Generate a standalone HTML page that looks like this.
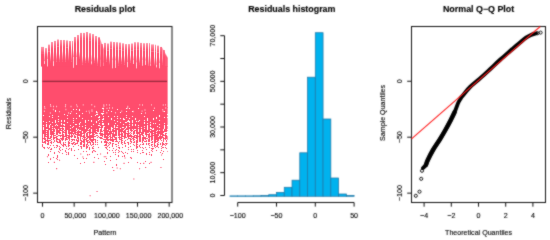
<!DOCTYPE html><html><head><meta charset="utf-8"><style>html,body{margin:0;padding:0;background:#fff;width:550px;height:240px;overflow:hidden}svg{display:block}text{font-family:"Liberation Sans",Arial,sans-serif;fill:#000;stroke:#000;stroke-width:0.12px}</style></head><body>
<svg width="550" height="240" viewBox="0 0 550 240">
<defs><filter id="gb" x="0" y="0" width="550" height="240" filterUnits="userSpaceOnUse" color-interpolation-filters="sRGB"><feConvolveMatrix order="3" kernelMatrix="1 2 1 2 12 2 1 2 1" edgeMode="duplicate"/></filter></defs>
<defs><filter id="gb2" x="0" y="0" width="550" height="240" filterUnits="userSpaceOnUse" color-interpolation-filters="sRGB"><feConvolveMatrix order="3" kernelMatrix="0 1 0 1 12 1 0 1 0" edgeMode="duplicate"/></filter></defs>
<rect width="550" height="240" fill="#fff"/>
<defs><linearGradient id="gg" x1="0" y1="0" x2="0" y2="1"><stop offset="0" stop-color="#ff4d6d" stop-opacity="0"/><stop offset="1" stop-color="#ff4d6d" stop-opacity="1"/></linearGradient><linearGradient id="sg" x1="0" y1="0" x2="0" y2="1"><stop offset="0" stop-color="#ff4d6d" stop-opacity="0.6"/><stop offset="1" stop-color="#ff4d6d" stop-opacity="1"/></linearGradient></defs>
<g filter="url(#gb2)">
<g fill="#ff4d6d">
<rect x="42.0" y="66" width="125.6" height="38.0"/>
</g>
<rect x="44.00" y="51.32" width="1.00" height="12.79" fill="url(#gg)"/>
<rect x="44.00" y="64.06" width="1.00" height="2.49" fill="#ff4d6d"/>
<rect x="41.00" y="46.90" width="3.00" height="7" fill="url(#sg)"/>
<rect x="41.00" y="53.85" width="3.00" height="12.70" fill="#ff4d6d"/>
<rect x="47.00" y="51.81" width="1.00" height="10.07" fill="url(#gg)"/>
<rect x="47.00" y="61.83" width="1.00" height="4.72" fill="#ff4d6d"/>
<rect x="45.00" y="48.10" width="2.00" height="7" fill="url(#sg)"/>
<rect x="45.00" y="55.05" width="2.00" height="11.50" fill="#ff4d6d"/>
<rect x="50.00" y="52.26" width="1.00" height="9.86" fill="url(#gg)"/>
<rect x="50.00" y="62.07" width="1.00" height="4.48" fill="#ff4d6d"/>
<rect x="48.00" y="44.60" width="2.00" height="7" fill="url(#sg)"/>
<rect x="48.00" y="51.55" width="2.00" height="15.00" fill="#ff4d6d"/>
<rect x="53.00" y="51.11" width="1.00" height="13.14" fill="url(#gg)"/>
<rect x="53.00" y="64.21" width="1.00" height="2.34" fill="#ff4d6d"/>
<rect x="51.00" y="42.00" width="2.00" height="7" fill="url(#sg)"/>
<rect x="51.00" y="48.95" width="2.00" height="17.60" fill="#ff4d6d"/>
<rect x="56.00" y="51.93" width="1.00" height="9.65" fill="url(#gg)"/>
<rect x="56.00" y="61.53" width="1.00" height="5.02" fill="#ff4d6d"/>
<rect x="54.00" y="40.90" width="2.00" height="7" fill="url(#sg)"/>
<rect x="54.00" y="47.85" width="2.00" height="18.70" fill="#ff4d6d"/>
<rect x="59.00" y="53.66" width="1.00" height="7.57" fill="url(#gg)"/>
<rect x="59.00" y="61.18" width="1.00" height="5.37" fill="#ff4d6d"/>
<rect x="57.00" y="39.50" width="2.00" height="7" fill="url(#sg)"/>
<rect x="57.00" y="46.45" width="2.00" height="20.10" fill="#ff4d6d"/>
<rect x="62.00" y="50.79" width="1.00" height="10.47" fill="url(#gg)"/>
<rect x="62.00" y="61.20" width="1.00" height="5.35" fill="#ff4d6d"/>
<rect x="60.00" y="40.00" width="2.00" height="7" fill="url(#sg)"/>
<rect x="60.00" y="46.95" width="2.00" height="19.60" fill="#ff4d6d"/>
<rect x="65.00" y="52.70" width="1.00" height="9.08" fill="url(#gg)"/>
<rect x="65.00" y="61.73" width="1.00" height="4.82" fill="#ff4d6d"/>
<rect x="63.00" y="40.00" width="2.00" height="7" fill="url(#sg)"/>
<rect x="63.00" y="46.95" width="2.00" height="19.60" fill="#ff4d6d"/>
<rect x="68.00" y="48.23" width="1.00" height="12.83" fill="url(#gg)"/>
<rect x="68.00" y="61.01" width="1.00" height="5.54" fill="#ff4d6d"/>
<rect x="66.00" y="40.40" width="2.00" height="7" fill="url(#sg)"/>
<rect x="66.00" y="47.35" width="2.00" height="19.20" fill="#ff4d6d"/>
<rect x="71.00" y="48.31" width="1.00" height="13.39" fill="url(#gg)"/>
<rect x="71.00" y="61.65" width="1.00" height="4.90" fill="#ff4d6d"/>
<rect x="69.00" y="41.00" width="2.00" height="7" fill="url(#sg)"/>
<rect x="69.00" y="47.95" width="2.00" height="18.60" fill="#ff4d6d"/>
<rect x="73.00" y="50.21" width="1.00" height="9.79" fill="url(#gg)"/>
<rect x="73.00" y="59.95" width="1.00" height="6.60" fill="#ff4d6d"/>
<rect x="72.00" y="41.00" width="1.00" height="7" fill="url(#sg)"/>
<rect x="72.00" y="47.95" width="1.00" height="18.60" fill="#ff4d6d"/>
<rect x="76.00" y="50.94" width="1.00" height="9.09" fill="url(#gg)"/>
<rect x="76.00" y="59.98" width="1.00" height="6.57" fill="#ff4d6d"/>
<rect x="74.00" y="37.00" width="2.00" height="7" fill="url(#sg)"/>
<rect x="74.00" y="43.95" width="2.00" height="22.60" fill="#ff4d6d"/>
<rect x="79.00" y="51.48" width="1.00" height="7.40" fill="url(#gg)"/>
<rect x="79.00" y="58.83" width="1.00" height="7.72" fill="#ff4d6d"/>
<rect x="77.00" y="35.00" width="2.00" height="7" fill="url(#sg)"/>
<rect x="77.00" y="41.95" width="2.00" height="24.60" fill="#ff4d6d"/>
<rect x="82.00" y="55.76" width="1.00" height="8.84" fill="url(#gg)"/>
<rect x="82.00" y="64.55" width="1.00" height="2.00" fill="#ff4d6d"/>
<rect x="80.00" y="32.90" width="2.00" height="7" fill="url(#sg)"/>
<rect x="80.00" y="39.85" width="2.00" height="26.70" fill="#ff4d6d"/>
<rect x="85.00" y="56.72" width="1.00" height="5.60" fill="url(#gg)"/>
<rect x="85.00" y="62.27" width="1.00" height="4.28" fill="#ff4d6d"/>
<rect x="83.00" y="32.90" width="2.00" height="7" fill="url(#sg)"/>
<rect x="83.00" y="39.85" width="2.00" height="26.70" fill="#ff4d6d"/>
<rect x="88.00" y="56.08" width="1.00" height="6.77" fill="url(#gg)"/>
<rect x="88.00" y="62.80" width="1.00" height="3.75" fill="#ff4d6d"/>
<rect x="86.00" y="32.00" width="2.00" height="7" fill="url(#sg)"/>
<rect x="86.00" y="38.95" width="2.00" height="27.60" fill="#ff4d6d"/>
<rect x="91.00" y="54.38" width="1.00" height="10.01" fill="url(#gg)"/>
<rect x="91.00" y="64.33" width="1.00" height="2.22" fill="#ff4d6d"/>
<rect x="89.00" y="33.25" width="2.00" height="7" fill="url(#sg)"/>
<rect x="89.00" y="40.20" width="2.00" height="26.35" fill="#ff4d6d"/>
<rect x="94.00" y="56.41" width="1.00" height="5.85" fill="url(#gg)"/>
<rect x="94.00" y="62.20" width="1.00" height="4.35" fill="#ff4d6d"/>
<rect x="92.00" y="34.10" width="2.00" height="7" fill="url(#sg)"/>
<rect x="92.00" y="41.05" width="2.00" height="25.50" fill="#ff4d6d"/>
<rect x="97.00" y="56.96" width="1.00" height="8.25" fill="url(#gg)"/>
<rect x="97.00" y="65.16" width="1.00" height="1.39" fill="#ff4d6d"/>
<rect x="95.00" y="36.00" width="2.00" height="7" fill="url(#sg)"/>
<rect x="95.00" y="42.95" width="2.00" height="23.60" fill="#ff4d6d"/>
<rect x="100.00" y="53.69" width="1.00" height="8.89" fill="url(#gg)"/>
<rect x="100.00" y="62.53" width="1.00" height="4.02" fill="#ff4d6d"/>
<rect x="98.00" y="37.25" width="2.00" height="7" fill="url(#sg)"/>
<rect x="98.00" y="44.20" width="2.00" height="22.35" fill="#ff4d6d"/>
<rect x="103.00" y="53.46" width="1.00" height="12.02" fill="url(#gg)"/>
<rect x="103.00" y="65.43" width="1.00" height="1.12" fill="#ff4d6d"/>
<rect x="101.00" y="44.00" width="2.00" height="7" fill="url(#sg)"/>
<rect x="101.00" y="50.95" width="2.00" height="15.60" fill="#ff4d6d"/>
<rect x="106.00" y="54.86" width="1.00" height="6.68" fill="url(#gg)"/>
<rect x="106.00" y="61.49" width="1.00" height="5.06" fill="#ff4d6d"/>
<rect x="104.00" y="42.90" width="2.00" height="7" fill="url(#sg)"/>
<rect x="104.00" y="49.85" width="2.00" height="16.70" fill="#ff4d6d"/>
<rect x="109.00" y="54.44" width="1.00" height="10.55" fill="url(#gg)"/>
<rect x="109.00" y="64.94" width="1.00" height="1.61" fill="#ff4d6d"/>
<rect x="107.00" y="43.50" width="2.00" height="7" fill="url(#sg)"/>
<rect x="107.00" y="50.45" width="2.00" height="16.10" fill="#ff4d6d"/>
<rect x="112.00" y="56.12" width="1.00" height="7.03" fill="url(#gg)"/>
<rect x="112.00" y="63.10" width="1.00" height="3.45" fill="#ff4d6d"/>
<rect x="110.00" y="41.60" width="2.00" height="7" fill="url(#sg)"/>
<rect x="110.00" y="48.55" width="2.00" height="18.00" fill="#ff4d6d"/>
<rect x="115.00" y="55.27" width="1.00" height="8.07" fill="url(#gg)"/>
<rect x="115.00" y="63.29" width="1.00" height="3.26" fill="#ff4d6d"/>
<rect x="113.00" y="42.00" width="2.00" height="7" fill="url(#sg)"/>
<rect x="113.00" y="48.95" width="2.00" height="17.60" fill="#ff4d6d"/>
<rect x="118.00" y="55.76" width="1.00" height="9.51" fill="url(#gg)"/>
<rect x="118.00" y="65.22" width="1.00" height="1.33" fill="#ff4d6d"/>
<rect x="116.00" y="42.25" width="2.00" height="7" fill="url(#sg)"/>
<rect x="116.00" y="49.20" width="2.00" height="17.35" fill="#ff4d6d"/>
<rect x="121.00" y="55.98" width="1.00" height="7.26" fill="url(#gg)"/>
<rect x="121.00" y="63.20" width="1.00" height="3.35" fill="#ff4d6d"/>
<rect x="119.00" y="42.60" width="2.00" height="7" fill="url(#sg)"/>
<rect x="119.00" y="49.55" width="2.00" height="17.00" fill="#ff4d6d"/>
<rect x="124.00" y="55.55" width="1.00" height="9.07" fill="url(#gg)"/>
<rect x="124.00" y="64.57" width="1.00" height="1.98" fill="#ff4d6d"/>
<rect x="122.00" y="43.30" width="2.00" height="7" fill="url(#sg)"/>
<rect x="122.00" y="50.25" width="2.00" height="16.30" fill="#ff4d6d"/>
<rect x="127.00" y="53.18" width="1.00" height="11.90" fill="url(#gg)"/>
<rect x="127.00" y="65.03" width="1.00" height="1.52" fill="#ff4d6d"/>
<rect x="125.00" y="44.10" width="2.00" height="7" fill="url(#sg)"/>
<rect x="125.00" y="51.05" width="2.00" height="15.50" fill="#ff4d6d"/>
<rect x="130.00" y="54.91" width="1.00" height="7.89" fill="url(#gg)"/>
<rect x="130.00" y="62.75" width="1.00" height="3.80" fill="#ff4d6d"/>
<rect x="128.00" y="44.10" width="2.00" height="7" fill="url(#sg)"/>
<rect x="128.00" y="51.05" width="2.00" height="15.50" fill="#ff4d6d"/>
<rect x="133.00" y="55.26" width="1.00" height="7.88" fill="url(#gg)"/>
<rect x="133.00" y="63.09" width="1.00" height="3.46" fill="#ff4d6d"/>
<rect x="131.00" y="43.50" width="2.00" height="7" fill="url(#sg)"/>
<rect x="131.00" y="50.45" width="2.00" height="16.10" fill="#ff4d6d"/>
<rect x="136.00" y="54.77" width="1.00" height="10.62" fill="url(#gg)"/>
<rect x="136.00" y="65.34" width="1.00" height="1.21" fill="#ff4d6d"/>
<rect x="134.00" y="42.25" width="2.00" height="7" fill="url(#sg)"/>
<rect x="134.00" y="49.20" width="2.00" height="17.35" fill="#ff4d6d"/>
<rect x="139.00" y="56.20" width="1.00" height="7.98" fill="url(#gg)"/>
<rect x="139.00" y="64.13" width="1.00" height="2.42" fill="#ff4d6d"/>
<rect x="137.00" y="42.25" width="2.00" height="7" fill="url(#sg)"/>
<rect x="137.00" y="49.20" width="2.00" height="17.35" fill="#ff4d6d"/>
<rect x="142.00" y="55.78" width="1.00" height="7.00" fill="url(#gg)"/>
<rect x="142.00" y="62.73" width="1.00" height="3.82" fill="#ff4d6d"/>
<rect x="140.00" y="42.90" width="2.00" height="7" fill="url(#sg)"/>
<rect x="140.00" y="49.85" width="2.00" height="16.70" fill="#ff4d6d"/>
<rect x="145.00" y="56.15" width="1.00" height="7.43" fill="url(#gg)"/>
<rect x="145.00" y="63.52" width="1.00" height="3.03" fill="#ff4d6d"/>
<rect x="143.00" y="43.25" width="2.00" height="7" fill="url(#sg)"/>
<rect x="143.00" y="50.20" width="2.00" height="16.35" fill="#ff4d6d"/>
<rect x="148.00" y="55.46" width="1.00" height="12.41" fill="url(#gg)"/>
<rect x="148.00" y="67.82" width="1.00" height="-1.27" fill="#ff4d6d"/>
<rect x="146.00" y="43.10" width="2.00" height="7" fill="url(#sg)"/>
<rect x="146.00" y="50.05" width="2.00" height="16.50" fill="#ff4d6d"/>
<rect x="150.00" y="55.87" width="1.00" height="11.56" fill="url(#gg)"/>
<rect x="150.00" y="67.38" width="1.00" height="-0.83" fill="#ff4d6d"/>
<rect x="149.00" y="43.10" width="1.00" height="7" fill="url(#sg)"/>
<rect x="149.00" y="50.05" width="1.00" height="16.50" fill="#ff4d6d"/>
<rect x="154.00" y="56.46" width="1.00" height="9.62" fill="url(#gg)"/>
<rect x="154.00" y="66.02" width="1.00" height="0.53" fill="#ff4d6d"/>
<rect x="151.00" y="44.40" width="3.00" height="7" fill="url(#sg)"/>
<rect x="151.00" y="51.35" width="3.00" height="15.20" fill="#ff4d6d"/>
<rect x="156.00" y="57.56" width="1.00" height="10.25" fill="url(#gg)"/>
<rect x="156.00" y="67.76" width="1.00" height="-1.21" fill="#ff4d6d"/>
<rect x="155.00" y="44.75" width="1.00" height="7" fill="url(#sg)"/>
<rect x="155.00" y="51.70" width="1.00" height="14.85" fill="#ff4d6d"/>
<rect x="159.00" y="57.07" width="1.00" height="8.79" fill="url(#gg)"/>
<rect x="159.00" y="65.81" width="1.00" height="0.74" fill="#ff4d6d"/>
<rect x="157.00" y="45.60" width="2.00" height="7" fill="url(#sg)"/>
<rect x="157.00" y="52.55" width="2.00" height="14.00" fill="#ff4d6d"/>
<rect x="162.00" y="58.07" width="1.00" height="6.67" fill="url(#gg)"/>
<rect x="162.00" y="64.69" width="1.00" height="1.86" fill="#ff4d6d"/>
<rect x="160.00" y="46.90" width="2.00" height="7" fill="url(#sg)"/>
<rect x="160.00" y="53.85" width="2.00" height="12.70" fill="#ff4d6d"/>
<rect x="163.00" y="50.00" width="2.00" height="7" fill="url(#sg)"/>
<rect x="163.00" y="56.95" width="2.00" height="9.60" fill="#ff4d6d"/>
<rect x="42.00" y="58" width="-1.00" height="8.5" fill="#ff4d6d"/>
<rect x="44.10" y="61.11" width="0.8" height="2.85" fill="#fff" fill-opacity="0.85"/>
<rect x="47.10" y="58.88" width="0.8" height="7.57" fill="#fff" fill-opacity="0.85"/>
<rect x="53.10" y="61.26" width="0.8" height="4.85" fill="#fff" fill-opacity="0.85"/>
<rect x="73.10" y="57.00" width="0.8" height="10.83" fill="#fff" fill-opacity="0.85"/>
<rect x="76.10" y="57.03" width="0.8" height="8.03" fill="#fff" fill-opacity="0.85"/>
<rect x="91.10" y="61.38" width="0.8" height="2.43" fill="#fff" fill-opacity="0.85"/>
<rect x="100.10" y="59.58" width="0.8" height="6.78" fill="#fff" fill-opacity="0.85"/>
<rect x="103.10" y="62.48" width="0.8" height="3.51" fill="#fff" fill-opacity="0.85"/>
<rect x="112.10" y="60.15" width="0.8" height="8.20" fill="#fff" fill-opacity="0.85"/>
<rect x="115.10" y="60.34" width="0.8" height="7.60" fill="#fff" fill-opacity="0.85"/>
<rect x="127.10" y="62.08" width="0.8" height="5.18" fill="#fff" fill-opacity="0.85"/>
<rect x="133.10" y="60.14" width="0.8" height="3.85" fill="#fff" fill-opacity="0.85"/>
<rect x="136.10" y="62.39" width="0.8" height="6.00" fill="#fff" fill-opacity="0.85"/>
<rect x="142.10" y="59.78" width="0.8" height="5.99" fill="#fff" fill-opacity="0.85"/>
<rect x="145.10" y="60.57" width="0.8" height="4.50" fill="#fff" fill-opacity="0.85"/>
<rect x="150.10" y="64.43" width="0.8" height="1.16" fill="#fff" fill-opacity="0.85"/>
<rect x="156.10" y="64.81" width="0.8" height="2.63" fill="#fff" fill-opacity="0.85"/>
<rect x="159.10" y="62.86" width="0.8" height="5.46" fill="#fff" fill-opacity="0.85"/>
<path fill="#ff4d6d" fill-opacity="0.6" d="M98.2,37.8 L99.6,37.6 L104.6,51 L104.6,66.5 L98.2,66.5 Z"/>
<path fill="#ff4d6d" fill-opacity="0.55" d="M160.4,47.2 L161.8,47 L167.6,57 L167.6,66.5 L160.4,66.5 Z"/>
<path fill="#ff4d6d" fill-opacity="0.85" d="M165,54 L167.6,58 L167.6,66.5 L165,66.5 Z"/>
<rect x="42.0" y="103.9" width="125.6" height="4" fill="#ff4d6d"/>
<path fill="#ff4d6d" d="M42,107h60v1h-60zM103,107h64.6v1h-64.6zM42,108h60v1h-60zM104,108h22v1h-22zM127,108h2v1h-2zM130,108h8v1h-8zM139,108h28.6v1h-28.6zM42,109h31v1h-31zM74,109h2v1h-2zM77,109h2v1h-2zM80,109h37v1h-37zM118,109h49.6v1h-49.6zM42,110h13v1h-13zM56,110h23v1h-23zM80,110h28v1h-28zM109,110h44v1h-44zM154,110h13.6v1h-13.6zM42,111h13v1h-13zM56,111h40v1h-40zM97,111h6v1h-6zM104,111h7v1h-7zM112,111h14v1h-14zM127,111h5v1h-5zM133,111h31v1h-31zM165,111h2.6v1h-2.6zM42,112h54v1h-54zM97,112h23v1h-23zM121,112h46.6v1h-46.6zM42,113h28v1h-28zM71,113h5v1h-5zM77,113h5v1h-5zM83,113h18v1h-18zM104,113h37v1h-37zM142,113h25.6v1h-25.6zM42,114h22v1h-22zM65,114h31v1h-31zM98,114h4v1h-4zM103,114h64v1h-64zM42,115h1v1h-1zM44,115h8v1h-8zM53,115h14v1h-14zM68,115h11v1h-11zM80,115h15v1h-15zM96,115h30v1h-30zM127,115h32v1h-32zM160,115h7.6v1h-7.6zM42,116h7v1h-7zM50,116h8v1h-8zM59,116h20v1h-20zM80,116h11v1h-11zM92,116h7v1h-7zM100,116h3v1h-3zM104,116h4v1h-4zM109,116h5v1h-5zM115,116h2v1h-2zM118,116h14v1h-14zM133,116h11v1h-11zM145,116h14v1h-14zM160,116h7.6v1h-7.6zM42,117h10v1h-10zM53,117h45v1h-45zM100,117h26v1h-26zM127,117h29v1h-29zM157,117h7v1h-7zM165,117h2v1h-2zM42,118h25v1h-25zM68,118h5v1h-5zM74,118h2v1h-2zM77,118h5v1h-5zM83,118h20v1h-20zM104,118h7v1h-7zM112,118h5v1h-5zM118,118h2v1h-2zM121,118h2v1h-2zM124,118h5v1h-5zM130,118h5v1h-5zM136,118h11v1h-11zM148,118h5v1h-5zM154,118h2v1h-2zM157,118h10.6v1h-10.6zM42,119h16v1h-16zM59,119h40v1h-40zM100,119h2v1h-2zM104,119h7v1h-7zM112,119h11v1h-11zM125,119h10v1h-10zM136,119h11v1h-11zM148,119h5v1h-5zM154,119h13.6v1h-13.6zM42,120h13v1h-13zM56,120h5v1h-5zM62,120h2v1h-2zM65,120h8v1h-8zM74,120h11v1h-11zM86,120h2v1h-2zM89,120h2v1h-2zM92,120h6v1h-6zM99,120h15v1h-15zM115,120h13v1h-13zM129,120h3v1h-3zM133,120h6v1h-6zM140,120h4v1h-4zM145,120h2v1h-2zM148,120h11v1h-11zM160,120h7.6v1h-7.6zM42,121h1v1h-1zM44,121h5v1h-5zM50,121h5v1h-5zM56,121h2v1h-2zM59,121h2v1h-2zM62,121h2v1h-2zM65,121h20v1h-20zM86,121h5v1h-5zM92,121h4v1h-4zM97,121h5v1h-5zM103,121h14v1h-14zM118,121h9v1h-9zM130,121h2v1h-2zM133,121h3v1h-3zM137,121h1v1h-1zM139,121h28.6v1h-28.6zM42,122h4v1h-4zM47,122h5v1h-5zM53,122h2v1h-2zM56,122h11v1h-11zM68,122h5v1h-5zM74,122h6v1h-6zM81,122h4v1h-4zM86,122h10v1h-10zM97,122h23v1h-23zM121,122h4v1h-4zM127,122h2v1h-2zM130,122h2v1h-2zM133,122h11v1h-11zM145,122h5v1h-5zM151,122h16.6v1h-16.6zM42,123h19v1h-19zM62,123h17v1h-17zM80,123h19v1h-19zM100,123h2v1h-2zM104,123h4v1h-4zM109,123h6v1h-6zM116,123h28v1h-28zM145,123h2v1h-2zM148,123h5v1h-5zM154,123h1v1h-1zM156,123h8v1h-8zM165,123h2.6v1h-2.6zM42,124h4v1h-4zM47,124h3v1h-3zM51,124h5v1h-5zM57,124h4v1h-4zM62,124h1v1h-1zM65,124h10v1h-10zM77,124h2v1h-2zM80,124h13v1h-13zM94,124h8v1h-8zM104,124h4v1h-4zM109,124h14v1h-14zM124,124h5v1h-5zM130,124h2v1h-2zM133,124h2v1h-2zM136,124h14v1h-14zM151,124h8v1h-8zM160,124h7.6v1h-7.6zM42,125h1v1h-1zM44,125h2v1h-2zM47,125h2v1h-2zM50,125h5v1h-5zM56,125h1v1h-1zM58,125h6v1h-6zM65,125h5v1h-5zM71,125h14v1h-14zM86,125h12v1h-12zM100,125h14v1h-14zM115,125h2v1h-2zM118,125h14v1h-14zM133,125h2v1h-2zM136,125h2v1h-2zM139,125h8v1h-8zM148,125h2v1h-2zM151,125h13v1h-13zM165,125h2v1h-2zM42,126h4v1h-4zM47,126h2v1h-2zM50,126h2v1h-2zM53,126h20v1h-20zM74,126h5v1h-5zM80,126h2v1h-2zM83,126h8v1h-8zM92,126h8v1h-8zM101,126h2v1h-2zM105,126h9v1h-9zM115,126h11v1h-11zM127,126h2v1h-2zM130,126h14v1h-14zM145,126h2v1h-2zM148,126h9v1h-9zM158,126h6v1h-6zM165,126h2.6v1h-2.6zM42,127h1v1h-1zM44,127h5v1h-5zM50,127h10v1h-10zM62,127h1v1h-1zM65,127h7v1h-7zM73,127h12v1h-12zM86,127h17v1h-17zM104,127h7v1h-7zM112,127h2v1h-2zM115,127h1v1h-1zM118,127h4v1h-4zM124,127h2v1h-2zM127,127h11v1h-11zM139,127h2v1h-2zM142,127h5v1h-5zM148,127h2v1h-2zM151,127h8v1h-8zM160,127h4v1h-4zM165,127h2.6v1h-2.6zM42,128h1v1h-1zM44,128h8v1h-8zM53,128h1v1h-1zM55,128h9v1h-9zM65,128h5v1h-5zM71,128h5v1h-5zM77,128h8v1h-8zM86,128h3v1h-3zM90,128h9v1h-9zM101,128h1v1h-1zM104,128h7v1h-7zM113,128h7v1h-7zM121,128h4v1h-4zM126,128h18v1h-18zM145,128h2v1h-2zM148,128h2v1h-2zM152,128h1v1h-1zM154,128h10v1h-10zM165,128h2.6v1h-2.6zM42,129h1v1h-1zM44,129h2v1h-2zM48,129h7v1h-7zM56,129h2v1h-2zM59,129h2v1h-2zM62,129h2v1h-2zM65,129h11v1h-11zM77,129h1v1h-1zM79,129h9v1h-9zM89,129h2v1h-2zM92,129h4v1h-4zM97,129h2v1h-2zM100,129h2v1h-2zM104,129h3v1h-3zM108,129h3v1h-3zM112,129h2v1h-2zM115,129h9v1h-9zM125,129h4v1h-4zM130,129h2v1h-2zM133,129h1v1h-1zM136,129h2v1h-2zM139,129h2v1h-2zM142,129h5v1h-5zM148,129h4v1h-4zM154,129h9v1h-9zM164,129h3v1h-3zM42,130h7v1h-7zM50,130h2v1h-2zM53,130h2v1h-2zM56,130h7v1h-7zM64,130h3v1h-3zM68,130h9v1h-9zM78,130h1v1h-1zM81,130h10v1h-10zM92,130h7v1h-7zM100,130h2v1h-2zM103,130h6v1h-6zM110,130h1v1h-1zM112,130h5v1h-5zM118,130h5v1h-5zM124,130h2v1h-2zM128,130h1v1h-1zM130,130h3v1h-3zM134,130h4v1h-4zM139,130h2v1h-2zM142,130h8v1h-8zM151,130h6v1h-6zM158,130h1v1h-1zM160,130h3v1h-3zM164,130h3.6v1h-3.6zM42,131h4v1h-4zM47,131h2v1h-2zM50,131h5v1h-5zM56,131h4v1h-4zM62,131h2v1h-2zM65,131h2v1h-2zM68,131h2v1h-2zM71,131h5v1h-5zM77,131h5v1h-5zM83,131h4v1h-4zM89,131h2v1h-2zM92,131h4v1h-4zM97,131h2v1h-2zM100,131h3v1h-3zM104,131h13v1h-13zM118,131h8v1h-8zM127,131h2v1h-2zM131,131h1v1h-1zM133,131h2v1h-2zM136,131h2v1h-2zM139,131h2v1h-2zM142,131h14v1h-14zM157,131h10v1h-10zM42,132h7v1h-7zM50,132h4v1h-4zM56,132h5v1h-5zM62,132h5v1h-5zM68,132h5v1h-5zM74,132h8v1h-8zM83,132h3v1h-3zM87,132h10v1h-10zM100,132h1v1h-1zM104,132h4v1h-4zM109,132h3v1h-3zM113,132h1v1h-1zM115,132h2v1h-2zM118,132h2v1h-2zM121,132h1v1h-1zM123,132h3v1h-3zM128,132h1v1h-1zM130,132h1v1h-1zM133,132h2v1h-2zM136,132h8v1h-8zM145,132h4v1h-4zM150,132h3v1h-3zM154,132h10v1h-10zM42,133h4v1h-4zM47,133h2v1h-2zM50,133h5v1h-5zM56,133h2v1h-2zM59,133h2v1h-2zM62,133h1v1h-1zM65,133h2v1h-2zM68,133h8v1h-8zM77,133h2v1h-2zM80,133h5v1h-5zM86,133h2v1h-2zM89,133h2v1h-2zM92,133h2v1h-2zM95,133h3v1h-3zM99,133h4v1h-4zM104,133h10v1h-10zM115,133h2v1h-2zM118,133h2v1h-2zM121,133h2v1h-2zM124,133h6v1h-6zM131,133h1v1h-1zM133,133h2v1h-2zM136,133h4v1h-4zM141,133h3v1h-3zM145,133h2v1h-2zM149,133h1v1h-1zM151,133h5v1h-5zM157,133h6v1h-6zM165,133h2v1h-2zM42,134h1v1h-1zM44,134h5v1h-5zM50,134h4v1h-4zM56,134h2v1h-2zM62,134h2v1h-2zM65,134h2v1h-2zM69,134h1v1h-1zM71,134h1v1h-1zM73,134h1v1h-1zM75,134h7v1h-7zM84,134h1v1h-1zM86,134h2v1h-2zM89,134h1v1h-1zM92,134h3v1h-3zM100,134h11v1h-11zM112,134h5v1h-5zM118,134h5v1h-5zM124,134h2v1h-2zM127,134h2v1h-2zM130,134h1v1h-1zM133,134h1v1h-1zM137,134h1v1h-1zM139,134h4v1h-4zM145,134h5v1h-5zM151,134h2v1h-2zM154,134h5v1h-5zM160,134h4v1h-4zM165,134h1v1h-1zM42,135h1v1h-1zM44,135h2v1h-2zM47,135h2v1h-2zM51,135h1v1h-1zM53,135h3v1h-3zM58,135h6v1h-6zM65,135h5v1h-5zM71,135h2v1h-2zM74,135h1v1h-1zM77,135h5v1h-5zM83,135h2v1h-2zM86,135h2v1h-2zM89,135h5v1h-5zM96,135h2v1h-2zM100,135h3v1h-3zM104,135h2v1h-2zM107,135h2v1h-2zM110,135h1v1h-1zM112,135h5v1h-5zM118,135h2v1h-2zM121,135h2v1h-2zM124,135h2v1h-2zM127,135h5v1h-5zM134,135h4v1h-4zM139,135h2v1h-2zM142,135h2v1h-2zM146,135h1v1h-1zM148,135h2v1h-2zM151,135h8v1h-8zM160,135h1v1h-1zM162,135h5v1h-5zM42,136h1v1h-1zM44,136h5v1h-5zM50,136h2v1h-2zM53,136h1v1h-1zM56,136h2v1h-2zM60,136h1v1h-1zM62,136h5v1h-5zM68,136h5v1h-5zM74,136h2v1h-2zM77,136h1v1h-1zM80,136h5v1h-5zM86,136h10v1h-10zM98,136h1v1h-1zM102,136h1v1h-1zM104,136h4v1h-4zM109,136h2v1h-2zM112,136h3v1h-3zM119,136h1v1h-1zM121,136h5v1h-5zM127,136h8v1h-8zM136,136h5v1h-5zM143,136h1v1h-1zM146,136h1v1h-1zM148,136h5v1h-5zM154,136h4v1h-4zM159,136h4v1h-4zM165,136h2.6v1h-2.6zM42,137h1v1h-1zM44,137h1v1h-1zM47,137h2v1h-2zM50,137h2v1h-2zM53,137h4v1h-4zM62,137h2v1h-2zM66,137h4v1h-4zM71,137h1v1h-1zM74,137h2v1h-2zM77,137h2v1h-2zM80,137h1v1h-1zM83,137h3v1h-3zM87,137h7v1h-7zM97,137h1v1h-1zM99,137h3v1h-3zM104,137h5v1h-5zM110,137h3v1h-3zM114,137h3v1h-3zM118,137h4v1h-4zM124,137h3v1h-3zM128,137h1v1h-1zM131,137h1v1h-1zM133,137h5v1h-5zM139,137h2v1h-2zM142,137h4v1h-4zM148,137h2v1h-2zM151,137h2v1h-2zM154,137h10v1h-10zM165,137h2.6v1h-2.6zM42,138h4v1h-4zM47,138h4v1h-4zM53,138h2v1h-2zM56,138h2v1h-2zM60,138h4v1h-4zM65,138h2v1h-2zM68,138h2v1h-2zM77,138h2v1h-2zM80,138h1v1h-1zM82,138h1v1h-1zM84,138h1v1h-1zM86,138h2v1h-2zM89,138h2v1h-2zM93,138h1v1h-1zM100,138h3v1h-3zM106,138h2v1h-2zM110,138h1v1h-1zM112,138h1v1h-1zM115,138h2v1h-2zM119,138h1v1h-1zM121,138h2v1h-2zM124,138h1v1h-1zM128,138h3v1h-3zM132,138h2v1h-2zM136,138h2v1h-2zM139,138h2v1h-2zM142,138h6v1h-6zM149,138h1v1h-1zM151,138h2v1h-2zM154,138h8v1h-8zM163,138h4.6v1h-4.6zM42,139h1v1h-1zM44,139h2v1h-2zM47,139h1v1h-1zM51,139h1v1h-1zM53,139h1v1h-1zM56,139h4v1h-4zM61,139h3v1h-3zM65,139h3v1h-3zM69,139h1v1h-1zM71,139h4v1h-4zM76,139h1v1h-1zM78,139h1v1h-1zM80,139h1v1h-1zM83,139h4v1h-4zM89,139h7v1h-7zM103,139h14v1h-14zM119,139h3v1h-3zM127,139h1v1h-1zM130,139h2v1h-2zM133,139h2v1h-2zM137,139h1v1h-1zM139,139h2v1h-2zM142,139h2v1h-2zM145,139h1v1h-1zM148,139h2v1h-2zM151,139h2v1h-2zM154,139h5v1h-5zM160,139h1v1h-1zM163,139h1v1h-1zM165,139h1v1h-1zM167,139h0.6v1h-0.6zM42,140h1v1h-1zM45,140h6v1h-6zM54,140h1v1h-1zM56,140h1v1h-1zM59,140h2v1h-2zM62,140h1v1h-1zM65,140h1v1h-1zM69,140h1v1h-1zM72,140h1v1h-1zM74,140h1v1h-1zM76,140h3v1h-3zM80,140h2v1h-2zM83,140h2v1h-2zM86,140h3v1h-3zM90,140h4v1h-4zM95,140h1v1h-1zM97,140h1v1h-1zM105,140h1v1h-1zM107,140h2v1h-2zM110,140h4v1h-4zM116,140h1v1h-1zM121,140h2v1h-2zM125,140h1v1h-1zM130,140h1v1h-1zM133,140h1v1h-1zM136,140h2v1h-2zM139,140h2v1h-2zM142,140h2v1h-2zM146,140h1v1h-1zM148,140h2v1h-2zM151,140h1v1h-1zM154,140h2v1h-2zM157,140h2v1h-2zM161,140h1v1h-1zM163,140h1v1h-1zM166,140h1v1h-1zM42,141h1v1h-1zM44,141h2v1h-2zM47,141h2v1h-2zM51,141h1v1h-1zM54,141h1v1h-1zM56,141h2v1h-2zM59,141h2v1h-2zM68,141h1v1h-1zM71,141h1v1h-1zM77,141h2v1h-2zM81,141h4v1h-4zM86,141h2v1h-2zM89,141h1v1h-1zM91,141h2v1h-2zM95,141h1v1h-1zM101,141h1v1h-1zM104,141h3v1h-3zM112,141h2v1h-2zM115,141h3v1h-3zM119,141h1v1h-1zM121,141h1v1h-1zM124,141h1v1h-1zM130,141h2v1h-2zM134,141h1v1h-1zM136,141h2v1h-2zM139,141h2v1h-2zM142,141h1v1h-1zM144,141h3v1h-3zM148,141h2v1h-2zM152,141h1v1h-1zM154,141h4v1h-4zM163,141h1v1h-1zM166,141h1v1h-1zM42,142h4v1h-4zM48,142h1v1h-1zM50,142h2v1h-2zM53,142h1v1h-1zM57,142h4v1h-4zM63,142h1v1h-1zM65,142h1v1h-1zM68,142h2v1h-2zM73,142h2v1h-2zM77,142h1v1h-1zM80,142h2v1h-2zM83,142h2v1h-2zM87,142h4v1h-4zM92,142h2v1h-2zM95,142h1v1h-1zM97,142h1v1h-1zM101,142h1v1h-1zM104,142h4v1h-4zM109,142h2v1h-2zM118,142h1v1h-1zM121,142h2v1h-2zM124,142h1v1h-1zM127,142h2v1h-2zM131,142h1v1h-1zM133,142h2v1h-2zM136,142h2v1h-2zM142,142h1v1h-1zM151,142h2v1h-2zM154,142h2v1h-2zM158,142h1v1h-1zM162,142h1v1h-1zM45,143h1v1h-1zM47,143h2v1h-2zM51,143h1v1h-1zM60,143h1v1h-1zM63,143h1v1h-1zM68,143h2v1h-2zM71,143h3v1h-3zM75,143h3v1h-3zM80,143h2v1h-2zM84,143h1v1h-1zM87,143h1v1h-1zM90,143h1v1h-1zM93,143h1v1h-1zM106,143h1v1h-1zM108,143h1v1h-1zM110,143h1v1h-1zM112,143h2v1h-2zM118,143h1v1h-1zM121,143h1v1h-1zM124,143h2v1h-2zM128,143h1v1h-1zM130,143h1v1h-1zM136,143h1v1h-1zM143,143h1v1h-1zM146,143h1v1h-1zM148,143h2v1h-2zM154,143h1v1h-1zM157,143h1v1h-1zM160,143h1v1h-1zM162,143h2v1h-2zM165,143h2.6v1h-2.6zM42,144h1v1h-1zM47,144h2v1h-2zM61,144h1v1h-1zM63,144h3v1h-3zM68,144h1v1h-1zM72,144h1v1h-1zM74,144h2v1h-2zM80,144h2v1h-2zM83,144h2v1h-2zM86,144h2v1h-2zM90,144h1v1h-1zM92,144h2v1h-2zM95,144h1v1h-1zM97,144h1v1h-1zM105,144h2v1h-2zM109,144h1v1h-1zM112,144h1v1h-1zM115,144h2v1h-2zM122,144h1v1h-1zM128,144h1v1h-1zM133,144h1v1h-1zM136,144h2v1h-2zM140,144h1v1h-1zM142,144h2v1h-2zM146,144h1v1h-1zM148,144h1v1h-1zM151,144h2v1h-2zM154,144h1v1h-1zM157,144h2v1h-2zM160,144h1v1h-1zM162,144h3v1h-3zM166,144h1v1h-1zM42,145h1v1h-1zM50,145h1v1h-1zM53,145h1v1h-1zM56,145h2v1h-2zM62,145h2v1h-2zM65,145h1v1h-1zM68,145h2v1h-2zM78,145h1v1h-1zM83,145h2v1h-2zM86,145h1v1h-1zM88,145h1v1h-1zM91,145h1v1h-1zM104,145h3v1h-3zM108,145h1v1h-1zM112,145h1v1h-1zM118,145h1v1h-1zM125,145h1v1h-1zM134,145h1v1h-1zM136,145h1v1h-1zM139,145h1v1h-1zM149,145h1v1h-1zM151,145h1v1h-1zM154,145h2v1h-2zM157,145h1v1h-1zM162,145h1v1h-1zM165,145h1v1h-1zM42,146h1v1h-1zM57,146h1v1h-1zM59,146h1v1h-1zM63,146h1v1h-1zM66,146h1v1h-1zM68,146h1v1h-1zM73,146h1v1h-1zM80,146h2v1h-2zM83,146h2v1h-2zM86,146h2v1h-2zM93,146h1v1h-1zM107,146h1v1h-1zM112,146h1v1h-1zM116,146h1v1h-1zM125,146h1v1h-1zM130,146h1v1h-1zM136,146h2v1h-2zM139,146h1v1h-1zM152,146h1v1h-1zM154,146h1v1h-1zM156,146h2v1h-2zM161,146h1v1h-1zM43,147h2v1h-2zM47,147h1v1h-1zM49,147h1v1h-1zM54,147h1v1h-1zM56,147h1v1h-1zM60,147h1v1h-1zM81,147h1v1h-1zM86,147h2v1h-2zM89,147h1v1h-1zM92,147h1v1h-1zM98,147h1v1h-1zM105,147h2v1h-2zM109,147h1v1h-1zM118,147h2v1h-2zM122,147h1v1h-1zM128,147h1v1h-1zM136,147h2v1h-2zM140,147h1v1h-1zM142,147h1v1h-1zM145,147h1v1h-1zM149,147h1v1h-1zM155,147h1v1h-1zM158,147h1v1h-1zM162,147h2v1h-2zM165,147h1v1h-1zM44,148h1v1h-1zM48,148h1v1h-1zM51,148h1v1h-1zM59,148h1v1h-1zM66,148h1v1h-1zM69,148h1v1h-1zM71,148h1v1h-1zM81,148h1v1h-1zM86,148h1v1h-1zM89,148h1v1h-1zM92,148h2v1h-2zM106,148h1v1h-1zM113,148h1v1h-1zM119,148h1v1h-1zM136,148h1v1h-1zM143,148h1v1h-1zM151,148h3v1h-3zM161,148h1v1h-1zM166,148h1v1h-1zM50,149h2v1h-2zM59,149h1v1h-1zM62,149h1v1h-1zM68,149h1v1h-1zM71,149h1v1h-1zM78,149h1v1h-1zM89,149h1v1h-1zM107,149h1v1h-1zM116,149h1v1h-1zM128,149h1v1h-1zM131,149h1v1h-1zM133,149h1v1h-1zM146,149h1v1h-1zM152,149h1v1h-1zM60,150h1v1h-1zM65,150h1v1h-1zM71,150h1v1h-1zM74,150h1v1h-1zM93,150h1v1h-1zM109,150h1v1h-1zM112,150h1v1h-1zM115,150h1v1h-1zM118,150h1v1h-1zM137,150h1v1h-1zM142,150h1v1h-1zM151,150h1v1h-1zM156,150h1v1h-1zM161,150h1v1h-1zM50,151h1v1h-1zM58,151h1v1h-1zM65,151h1v1h-1zM83,151h1v1h-1zM86,151h1v1h-1zM92,151h1v1h-1zM95,151h1v1h-1zM119,151h1v1h-1zM121,151h1v1h-1zM131,151h1v1h-1zM133,151h1v1h-1zM152,151h1v1h-1zM163,151h1v1h-1zM167,151h0.6v1h-0.6zM54,152h1v1h-1zM59,152h1v1h-1zM66,152h1v1h-1zM68,152h1v1h-1zM92,152h1v1h-1zM107,152h1v1h-1zM113,152h1v1h-1zM115,152h1v1h-1zM118,152h1v1h-1zM122,152h1v1h-1zM125,152h1v1h-1zM137,152h1v1h-1zM142,152h2v1h-2zM149,152h1v1h-1zM160,152h1v1h-1zM54,153h1v1h-1zM62,153h1v1h-1zM68,153h1v1h-1zM107,153h1v1h-1zM123,153h1v1h-1zM127,153h1v1h-1zM140,153h1v1h-1zM146,153h1v1h-1zM162,153h1v1h-1zM48,154h1v1h-1zM66,154h1v1h-1zM68,154h1v1h-1zM87,154h1v1h-1zM89,154h1v1h-1zM97,154h1v1h-1zM115,154h1v1h-1zM146,154h1v1h-1zM149,154h1v1h-1zM151,154h1v1h-1zM48,155h1v1h-1zM57,155h1v1h-1zM74,155h1v1h-1zM118,155h1v1h-1zM124,155h1v1h-1zM151,155h1v1h-1zM57,156h1v1h-1zM110,156h1v1h-1zM118,156h1v1h-1zM122,156h1v1h-1zM124,156h1v1h-1zM53,157h1v1h-1zM57,157h1v1h-1zM94,157h1v1h-1zM130,157h1v1h-1zM56,158h1v1h-1zM77,158h1v1h-1zM83,158h1v1h-1zM86,158h1v1h-1zM98,158h1v1h-1zM106,158h1v1h-1zM131,158h1v1h-1zM50,159h1v1h-1zM57,159h1v1h-1zM116,159h1v1h-1zM163,159h1v1h-1zM110,160h1v1h-1zM104,161h1v1h-1zM145,161h1v1h-1zM48,162h1v1h-1zM84,162h1v1h-1zM128,162h1v1h-1zM137,162h1v1h-1zM80,163h1v1h-1zM140,163h1v1h-1zM149,163h1v1h-1zM105,164h1v1h-1zM116,164h1v1h-1zM116,165h1v1h-1z"/>
<path fill="#fff" fill-opacity="0.7" d="M44.16,106.00h0.9v1.4h-0.9zM44.46,107.67h0.9v1.4h-0.9zM43.87,110.51h0.9v1.4h-0.9zM50.08,104.01h0.9v1.4h-0.9zM50.40,105.66h0.9v1.4h-0.9zM49.84,112.34h0.9v1.4h-0.9zM53.13,105.79h0.9v1.4h-0.9zM52.89,108.84h0.9v1.4h-0.9zM56.18,105.78h0.9v1.4h-0.9zM59.09,110.89h0.9v1.4h-0.9zM65.24,104.01h0.9v1.4h-0.9zM64.89,105.78h0.9v1.4h-0.9zM65.45,108.85h0.9v1.4h-0.9zM68.22,112.32h0.9v1.4h-0.9zM70.57,105.86h0.9v1.4h-0.9zM70.95,110.88h0.9v1.4h-0.9zM76.16,104.14h0.9v1.4h-0.9zM76.82,105.78h0.9v1.4h-0.9zM82.76,104.17h0.9v1.4h-0.9zM85.88,110.64h0.9v1.4h-0.9zM88.62,110.43h0.9v1.4h-0.9zM89.03,112.19h0.9v1.4h-0.9zM91.35,104.03h0.9v1.4h-0.9zM91.51,109.26h0.9v1.4h-0.9zM91.57,110.69h0.9v1.4h-0.9zM94.28,105.86h0.9v1.4h-0.9zM97.08,112.01h0.9v1.4h-0.9zM103.35,104.26h0.9v1.4h-0.9zM103.45,105.62h0.9v1.4h-0.9zM103.13,107.70h0.9v1.4h-0.9zM102.96,109.20h0.9v1.4h-0.9zM106.19,104.15h0.9v1.4h-0.9zM106.54,107.64h0.9v1.4h-0.9zM106.39,112.11h0.9v1.4h-0.9zM108.94,104.37h0.9v1.4h-0.9zM108.98,107.23h0.9v1.4h-0.9zM112.10,107.30h0.9v1.4h-0.9zM115.14,112.07h0.9v1.4h-0.9zM121.34,110.43h0.9v1.4h-0.9zM127.34,105.83h0.9v1.4h-0.9zM127.20,107.33h0.9v1.4h-0.9zM132.76,110.74h0.9v1.4h-0.9zM139.33,104.22h0.9v1.4h-0.9zM142.00,104.36h0.9v1.4h-0.9zM141.60,110.41h0.9v1.4h-0.9zM144.53,109.28h0.9v1.4h-0.9zM145.02,112.25h0.9v1.4h-0.9zM151.06,104.16h0.9v1.4h-0.9zM153.93,107.48h0.9v1.4h-0.9zM162.78,104.25h0.9v1.4h-0.9zM162.31,109.09h0.9v1.4h-0.9zM162.78,110.69h0.9v1.4h-0.9zM165.15,104.17h0.9v1.4h-0.9zM165.34,107.34h0.9v1.4h-0.9z"/>
<path fill="#ff4d6d" d="M46.9,156.2h1.1v1.1h-1.1zM50.0,158.2h1.1v1.1h-1.1zM53.8,161.8h1.1v1.1h-1.1zM59.0,159.7h1.1v1.1h-1.1zM56.1,168.1h1.1v1.1h-1.1zM80.2,153.5h1.1v1.1h-1.1zM82.3,156.5h1.1v1.1h-1.1zM87.1,154.5h1.1v1.1h-1.1zM93.3,161.8h1.1v1.1h-1.1zM93.8,150.3h1.1v1.1h-1.1zM100.0,153.5h1.1v1.1h-1.1zM105.2,156.2h1.1v1.1h-1.1zM89.6,195.2h1.1v1.1h-1.1zM96.5,191.0h1.1v1.1h-1.1zM103.7,156.2h1.1v1.1h-1.1zM112.0,167.0h1.1v1.1h-1.1zM113.2,169.9h1.1v1.1h-1.1zM116.6,167.5h1.1v1.1h-1.1zM119.8,168.2h1.1v1.1h-1.1zM123.5,162.8h1.1v1.1h-1.1zM124.5,157.5h1.1v1.1h-1.1zM130.8,157.5h1.1v1.1h-1.1zM133.3,178.5h1.1v1.1h-1.1zM139.0,168.2h1.1v1.1h-1.1zM143.2,162.8h1.1v1.1h-1.1zM145.1,167.0h1.1v1.1h-1.1zM150.5,161.8h1.1v1.1h-1.1zM160.4,167.0h1.1v1.1h-1.1zM161.0,154.5h1.1v1.1h-1.1z"/>
</g><g filter="url(#gb)">
<line x1="42.5" y1="81.3" x2="167" y2="81.3" stroke="#7a1f2e" stroke-width="1"/>
<rect x="37.5" y="26.5" width="134.5" height="176" fill="none" stroke="#111" stroke-width="1"/>
<line x1="33.2" y1="81.25" x2="37.5" y2="81.25" stroke="#111" stroke-width="1"/>
<text font-size="7.1" text-anchor="middle" transform="translate(27.8,81.25) rotate(-90)">0</text>
<line x1="33.2" y1="137.20" x2="37.5" y2="137.20" stroke="#111" stroke-width="1"/>
<text font-size="7.1" text-anchor="middle" transform="translate(27.8,137.20) rotate(-90)">−50</text>
<line x1="33.2" y1="193.15" x2="37.5" y2="193.15" stroke="#111" stroke-width="1"/>
<text font-size="7.1" text-anchor="middle" transform="translate(27.8,193.15) rotate(-90)">−100</text>
<line x1="42.50" y1="202.5" x2="42.50" y2="206.7" stroke="#111" stroke-width="1"/>
<text font-size="7.1" text-anchor="middle" x="42.50" y="217.8">0</text>
<line x1="74.17" y1="202.5" x2="74.17" y2="206.7" stroke="#111" stroke-width="1"/>
<text font-size="7.1" text-anchor="middle" x="75.27" y="217.8">50,000</text>
<line x1="105.84" y1="202.5" x2="105.84" y2="206.7" stroke="#111" stroke-width="1"/>
<text font-size="7.1" text-anchor="middle" x="106.94" y="217.8">100,000</text>
<line x1="137.51" y1="202.5" x2="137.51" y2="206.7" stroke="#111" stroke-width="1"/>
<text font-size="7.1" text-anchor="middle" x="138.61" y="217.8">150,000</text>
<line x1="169.18" y1="202.5" x2="169.18" y2="206.7" stroke="#111" stroke-width="1"/>
<text font-size="7.1" text-anchor="middle" x="170.28" y="217.8">200,000</text>
<text font-size="7.1" text-anchor="middle" x="105" y="234.6">Pattern</text>
<text font-size="7.1" text-anchor="middle" transform="translate(11.3,113.6) rotate(-90)">Residuals</text>
<text font-size="8.9" font-weight="bold" text-anchor="middle" x="105" y="11.9">Residuals plot</text>
<rect x="229.94" y="195.90" width="7.76" height="0.40" fill="#00b2ee" stroke="#1f78a8" stroke-width="0.75"/>
<rect x="237.70" y="195.90" width="7.76" height="0.40" fill="#00b2ee" stroke="#1f78a8" stroke-width="0.75"/>
<rect x="245.46" y="195.90" width="7.76" height="0.40" fill="#00b2ee" stroke="#1f78a8" stroke-width="0.75"/>
<rect x="253.22" y="195.80" width="7.76" height="0.50" fill="#00b2ee" stroke="#1f78a8" stroke-width="0.75"/>
<rect x="260.98" y="195.60" width="7.76" height="0.70" fill="#00b2ee" stroke="#1f78a8" stroke-width="0.75"/>
<rect x="268.74" y="194.70" width="7.76" height="1.60" fill="#00b2ee" stroke="#1f78a8" stroke-width="0.75"/>
<rect x="276.50" y="192.40" width="7.76" height="3.90" fill="#00b2ee" stroke="#1f78a8" stroke-width="0.75"/>
<rect x="284.26" y="187.30" width="7.76" height="9.00" fill="#00b2ee" stroke="#1f78a8" stroke-width="0.75"/>
<rect x="292.02" y="180.20" width="7.76" height="16.10" fill="#00b2ee" stroke="#1f78a8" stroke-width="0.75"/>
<rect x="299.78" y="152.80" width="7.76" height="43.50" fill="#00b2ee" stroke="#1f78a8" stroke-width="0.75"/>
<rect x="307.54" y="77.20" width="7.76" height="119.10" fill="#00b2ee" stroke="#1f78a8" stroke-width="0.75"/>
<rect x="315.30" y="32.70" width="7.76" height="163.60" fill="#00b2ee" stroke="#1f78a8" stroke-width="0.75"/>
<rect x="323.06" y="119.00" width="7.76" height="77.30" fill="#00b2ee" stroke="#1f78a8" stroke-width="0.75"/>
<rect x="330.82" y="178.00" width="7.76" height="18.30" fill="#00b2ee" stroke="#1f78a8" stroke-width="0.75"/>
<rect x="338.58" y="194.00" width="7.76" height="2.30" fill="#00b2ee" stroke="#1f78a8" stroke-width="0.75"/>
<rect x="346.34" y="195.60" width="7.76" height="0.70" fill="#00b2ee" stroke="#1f78a8" stroke-width="0.75"/>
<line x1="224.5" y1="35.7" x2="224.5" y2="195.5" stroke="#111" stroke-width="1"/>
<line x1="220.3" y1="195.50" x2="224.5" y2="195.50" stroke="#111" stroke-width="1"/>
<text font-size="7.1" text-anchor="middle" transform="translate(214.6,195.50) rotate(-90)">0</text>
<line x1="220.3" y1="172.67" x2="224.5" y2="172.67" stroke="#111" stroke-width="1"/>
<text font-size="7.1" text-anchor="middle" transform="translate(214.6,172.67) rotate(-90)">10,000</text>
<line x1="220.3" y1="149.84" x2="224.5" y2="149.84" stroke="#111" stroke-width="1"/>
<line x1="220.3" y1="127.01" x2="224.5" y2="127.01" stroke="#111" stroke-width="1"/>
<text font-size="7.1" text-anchor="middle" transform="translate(214.6,127.01) rotate(-90)">30,000</text>
<line x1="220.3" y1="104.18" x2="224.5" y2="104.18" stroke="#111" stroke-width="1"/>
<line x1="220.3" y1="81.35" x2="224.5" y2="81.35" stroke="#111" stroke-width="1"/>
<text font-size="7.1" text-anchor="middle" transform="translate(214.6,81.35) rotate(-90)">50,000</text>
<line x1="220.3" y1="58.52" x2="224.5" y2="58.52" stroke="#111" stroke-width="1"/>
<line x1="220.3" y1="35.69" x2="224.5" y2="35.69" stroke="#111" stroke-width="1"/>
<text font-size="7.1" text-anchor="middle" transform="translate(214.6,35.69) rotate(-90)">70,000</text>
<line x1="237.70" y1="202.5" x2="354.10" y2="202.5" stroke="#111" stroke-width="1"/>
<line x1="237.70" y1="202.5" x2="237.70" y2="206.6" stroke="#111" stroke-width="1"/>
<text font-size="7.1" text-anchor="middle" x="237.70" y="217.8">−100</text>
<line x1="276.50" y1="202.5" x2="276.50" y2="206.6" stroke="#111" stroke-width="1"/>
<text font-size="7.1" text-anchor="middle" x="276.50" y="217.8">−50</text>
<line x1="315.30" y1="202.5" x2="315.30" y2="206.6" stroke="#111" stroke-width="1"/>
<text font-size="7.1" text-anchor="middle" x="315.30" y="217.8">0</text>
<line x1="354.10" y1="202.5" x2="354.10" y2="206.6" stroke="#111" stroke-width="1"/>
<text font-size="7.1" text-anchor="middle" x="354.10" y="217.8">50</text>
<text font-size="8.9" font-weight="bold" text-anchor="middle" x="291.8" y="11.9">Residuals histogram</text>
<path d="M423.00,168.00 C423.48,167.50 425.10,166.33 425.90,165.00 C426.70,163.67 426.62,162.50 427.80,160.00 C428.98,157.50 431.05,153.33 433.00,150.00 C434.95,146.67 437.43,143.33 439.50,140.00 C441.57,136.67 443.52,133.33 445.40,130.00 C447.28,126.67 449.25,123.00 450.80,120.00 C452.35,117.00 453.40,115.00 454.70,112.00 C456.00,109.00 457.43,104.50 458.60,102.00 C459.77,99.50 460.65,98.50 461.70,97.00 C462.75,95.50 463.52,94.67 464.90,93.00 C466.28,91.33 467.48,89.43 470.00,87.00 C472.52,84.57 476.67,81.37 480.00,78.40 C483.33,75.43 486.67,72.30 490.00,69.20 C493.33,66.10 496.67,62.83 500.00,59.80 C503.33,56.77 506.67,53.90 510.00,51.00 C513.33,48.10 517.33,44.63 520.00,42.40 C522.67,40.17 524.17,38.83 526.00,37.60 C527.83,36.37 529.33,35.72 531.00,35.00 C532.67,34.28 535.17,33.58 536.00,33.30" fill="none" stroke="#000" stroke-width="3.9" stroke-linecap="round" stroke-linejoin="round"/>
<path d="M425.90,165.00 C426.22,164.17 426.62,162.50 427.80,160.00 C428.98,157.50 431.05,153.33 433.00,150.00 C434.95,146.67 437.43,143.33 439.50,140.00 C441.57,136.67 443.52,133.33 445.40,130.00 C447.28,126.67 449.25,123.00 450.80,120.00 C452.35,117.00 454.05,113.33 454.70,112.00" fill="none" stroke="#000" stroke-width="4.5" stroke-linecap="round" stroke-linejoin="round"/>
<circle cx="415.8" cy="195.8" r="1.55" fill="none" stroke="#000" stroke-width="0.9"/>
<circle cx="419.5" cy="191.7" r="1.55" fill="none" stroke="#000" stroke-width="0.9"/>
<circle cx="421.2" cy="178.8" r="1.55" fill="none" stroke="#000" stroke-width="0.9"/>
<circle cx="422.0" cy="170.8" r="1.55" fill="none" stroke="#000" stroke-width="0.9"/>
<circle cx="537.6" cy="33.2" r="1.55" fill="none" stroke="#000" stroke-width="0.9"/>
<circle cx="540.6" cy="32.6" r="1.55" fill="none" stroke="#000" stroke-width="0.9"/>
<rect x="411.5" y="26.5" width="134" height="176" fill="none" stroke="#111" stroke-width="1"/>
<line x1="407.2" y1="81.25" x2="411.5" y2="81.25" stroke="#111" stroke-width="1"/>
<text font-size="7.1" text-anchor="middle" transform="translate(401.5,81.25) rotate(-90)">0</text>
<line x1="407.2" y1="137.20" x2="411.5" y2="137.20" stroke="#111" stroke-width="1"/>
<text font-size="7.1" text-anchor="middle" transform="translate(401.5,137.20) rotate(-90)">−50</text>
<line x1="407.2" y1="193.15" x2="411.5" y2="193.15" stroke="#111" stroke-width="1"/>
<text font-size="7.1" text-anchor="middle" transform="translate(401.5,193.15) rotate(-90)">−100</text>
<line x1="424.10" y1="202.5" x2="424.10" y2="206.7" stroke="#111" stroke-width="1"/>
<text font-size="7.1" text-anchor="middle" x="424.10" y="217.8">−4</text>
<line x1="451.30" y1="202.5" x2="451.30" y2="206.7" stroke="#111" stroke-width="1"/>
<text font-size="7.1" text-anchor="middle" x="451.30" y="217.8">−2</text>
<line x1="478.50" y1="202.5" x2="478.50" y2="206.7" stroke="#111" stroke-width="1"/>
<text font-size="7.1" text-anchor="middle" x="478.50" y="217.8">0</text>
<line x1="505.70" y1="202.5" x2="505.70" y2="206.7" stroke="#111" stroke-width="1"/>
<text font-size="7.1" text-anchor="middle" x="505.70" y="217.8">2</text>
<line x1="532.90" y1="202.5" x2="532.90" y2="206.7" stroke="#111" stroke-width="1"/>
<text font-size="7.1" text-anchor="middle" x="532.90" y="217.8">4</text>
<text font-size="7.1" text-anchor="middle" x="478.6" y="234.6">Theoretical Quantiles</text>
<text font-size="7.1" text-anchor="middle" transform="translate(385,112.9) rotate(-90)">Sample Quantiles</text>
<text font-size="8.9" font-weight="bold" text-anchor="middle" x="478.6" y="11.9">Normal Q−Q Plot</text>
</g><g filter="url(#gb)">
<line x1="411.5" y1="138.8" x2="540.2" y2="26.5" stroke="#ff1c1c" stroke-width="1.1"/>
</g></svg></body></html>
